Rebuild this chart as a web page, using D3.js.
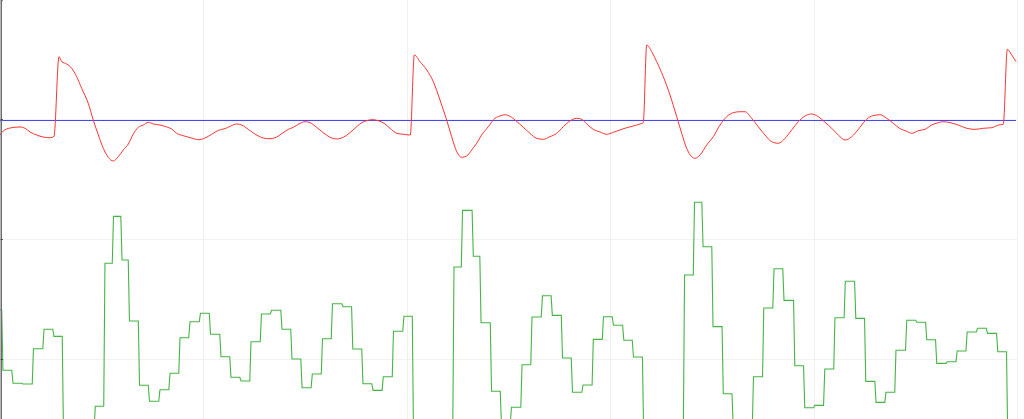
<!DOCTYPE html>
<html>
<head>
<meta charset="utf-8">
<script src="https://cdn.jsdelivr.net/npm/d3@7/dist/d3.min.js"></script>
<style>
html,body{margin:0;padding:0;background:#fff;overflow:hidden;}
svg{display:block;}
</style>
</head>
<body>
<svg id="chart" width="1024" height="419"></svg>
<script>
// ---- data (time in seconds, value in signal units) ----
const xTicks = [0, 2, 4, 6, 8, 10];
const yTicks = [1, 0, -1, -2];

const blueT = [0, 9.99];
const blueV = [0, 0];

const redT = [0.000,0.032,0.098,0.197,0.246,0.295,0.361,0.426,0.492,0.531,0.580,0.607,0.656,0.705,0.754,0.803,0.868,0.917,0.967,1.016,
1.065,1.114,1.163,1.212,1.262,1.311,1.360,1.409,1.458,1.507,1.573,1.639,1.688,1.737,1.802,1.885,1.950,2.016,2.082,2.147,
2.212,2.262,2.327,2.377,2.442,2.507,2.589,2.655,2.704,2.770,2.835,2.884,2.950,2.999,3.048,3.114,3.179,3.245,3.311,3.376,
3.441,3.507,3.557,3.606,3.655,3.720,3.786,3.835,3.901,3.966,4.034,4.074,4.130,4.196,4.261,4.326,4.392,4.441,4.491,4.540,
4.589,4.638,4.687,4.736,4.801,4.867,4.916,4.966,5.031,5.064,5.146,5.211,5.277,5.342,5.408,5.474,5.539,5.605,5.671,5.720,
5.769,5.834,5.900,5.965,6.031,6.096,6.162,6.227,6.293,6.325,6.359,6.408,6.457,6.522,6.588,6.654,6.703,6.752,6.801,6.834,
6.883,6.949,7.014,7.080,7.146,7.210,7.276,7.325,7.391,7.456,7.522,7.588,7.653,7.719,7.785,7.850,7.915,7.981,8.046,8.112,
8.178,8.243,8.309,8.375,8.440,8.505,8.571,8.653,8.719,8.784,8.850,8.915,8.965,9.030,9.095,9.161,9.226,9.275,9.341,9.423,
9.505,9.587,9.669,9.751,9.816,9.865,9.905,9.948,9.990];
const redV = [-0.125,-0.092,-0.067,-0.058,-0.069,-0.100,-0.125,-0.142,-0.148,-0.136,0.528,0.486,0.467,0.431,0.361,0.264,0.139,0.000,-0.125,-0.236,
-0.311,-0.342,-0.306,-0.250,-0.200,-0.117,-0.061,-0.042,-0.019,-0.033,-0.042,-0.058,-0.075,-0.111,-0.131,-0.150,-0.164,-0.150,-0.119,-0.086,
-0.072,-0.053,-0.033,-0.042,-0.078,-0.117,-0.150,-0.156,-0.148,-0.114,-0.078,-0.061,-0.028,-0.014,-0.022,-0.061,-0.106,-0.144,-0.158,-0.144,
-0.106,-0.056,-0.022,-0.006,0.003,-0.006,-0.033,-0.069,-0.111,-0.119,-0.125,0.542,0.486,0.417,0.319,0.167,0.000,-0.139,-0.264,-0.311,
-0.300,-0.250,-0.194,-0.125,-0.056,0.014,0.033,0.044,0.022,0.000,-0.061,-0.111,-0.153,-0.161,-0.139,-0.111,-0.056,-0.008,0.014,0.006,
-0.033,-0.078,-0.100,-0.119,-0.103,-0.083,-0.064,-0.050,-0.033,-0.022,0.625,0.569,0.486,0.361,0.208,0.028,-0.111,-0.236,-0.306,-0.319,
-0.292,-0.208,-0.139,-0.042,0.028,0.061,0.069,0.069,0.014,-0.056,-0.125,-0.181,-0.194,-0.153,-0.083,-0.014,0.033,0.050,0.028,-0.019,
-0.069,-0.125,-0.167,-0.139,-0.078,-0.008,0.033,0.044,0.014,-0.028,-0.072,-0.094,-0.111,-0.089,-0.078,-0.042,-0.022,-0.014,-0.022,-0.042,
-0.069,-0.078,-0.069,-0.064,-0.042,-0.036,0.589,0.542,0.486];

const greenT = [-0.069,0.029,0.128,0.226,0.329,0.433,0.531,0.624,0.728,0.831,0.937,1.032,1.116,1.200,1.273,1.372,1.470,1.573,1.672,1.770,
1.868,1.971,2.070,2.173,2.271,2.370,2.468,2.571,2.670,2.773,2.871,2.970,3.071,3.171,3.269,3.373,3.469,3.569,3.668,3.769,
3.869,3.972,4.066,4.169,4.267,4.366,4.464,4.548,4.654,4.730,4.833,4.931,5.029,5.133,5.231,5.334,5.431,5.531,5.629,5.733,
5.834,5.934,6.032,6.134,6.229,6.329,6.431,6.529,6.627,6.731,6.829,6.913,7.011,7.112,7.210,7.311,7.409,7.510,7.611,7.709,
7.815,7.913,8.012,8.110,8.210,8.312,8.415,8.513,8.614,8.712,8.810,8.916,9.015,9.113,9.211,9.314,9.412,9.510,9.612,9.710,
9.811,9.909,9.990];
const greenV = [-1.583,-2.086,-2.194,-2.200,-1.906,-1.744,-1.803,-2.600,-2.708,-2.583,-2.386,-1.194,-0.803,-1.167,-1.675,-2.211,-2.344,-2.248,-2.111,-1.814,
-1.681,-1.611,-1.786,-1.973,-2.144,-2.175,-1.848,-1.617,-1.586,-1.744,-1.992,-2.231,-2.117,-1.823,-1.531,-1.556,-1.908,-2.198,-2.253,-2.139,
-1.761,-1.636,-2.625,-2.750,-2.733,-2.583,-1.225,-0.753,-1.136,-1.689,-2.261,-2.542,-2.394,-2.039,-1.642,-1.464,-1.628,-1.983,-2.269,-2.208,
-1.828,-1.639,-1.711,-1.836,-1.975,-2.625,-2.750,-2.750,-2.600,-1.292,-0.686,-1.056,-1.722,-2.281,-2.583,-2.567,-2.139,-1.567,-1.239,-1.503,
-2.048,-2.398,-2.378,-2.075,-1.648,-1.344,-1.653,-2.178,-2.353,-2.269,-1.919,-1.669,-1.686,-1.831,-2.028,-2.014,-1.925,-1.767,-1.736,-1.778,
-1.931,-2.667,-2.667];

// ---- chart ----
const W = 1024, H = 419;
const svg = d3.select("#chart");
const x = d3.scaleLinear().domain([0, 10]).range([0, 1017]);
const y = d3.scaleLinear().domain([1, -2.5]).range([0, 420]);

svg.append("defs").append("clipPath").attr("id", "plotclip")
  .append("rect").attr("x", 0).attr("y", 0).attr("width", x(10)).attr("height", H);

// grid
const grid = svg.append("g").attr("shape-rendering", "crispEdges");
grid.selectAll("line.vx").data(xTicks.filter(d => d > 0)).join("line")
  .attr("x1", d => Math.round(x(d)) + 0.5).attr("x2", d => Math.round(x(d)) + 0.5)
  .attr("y1", 0).attr("y2", H)
  .attr("stroke", "#efefef").attr("stroke-width", 1);
grid.selectAll("line.hy").data(yTicks).join("line")
  .attr("x1", 0).attr("x2", x(10))
  .attr("y1", d => Math.round(y(d)) - 0.5).attr("y2", d => Math.round(y(d)) - 0.5)
  .attr("stroke", "#f2f2f2").attr("stroke-width", 1);

const plot = svg.append("g").attr("clip-path", "url(#plotclip)");

const toPts = (T, V) => T.map((t, i) => [t, V[i]]);

// green sampled-and-held series: each value held until the next sample, with a short ramp
const ramp = 0.012;
const greenPts = [];
greenT.forEach((t, i) => {
  greenPts.push([t, greenV[i]]);
  if (i < greenT.length - 1) greenPts.push([greenT[i + 1] - ramp, greenV[i]]);
});
plot.append("path")
  .datum(greenPts)
  .attr("fill", "none")
  .attr("stroke", "#45b545")
  .attr("stroke-width", 1.1)
  .attr("d", d3.line().x(d => x(d[0])).y(d => y(d[1])));

// blue reference line
plot.append("path")
  .datum(toPts(blueT, blueV))
  .attr("fill", "none")
  .attr("stroke", "#4646ff")
  .attr("stroke-width", 1)
  .attr("shape-rendering", "crispEdges")
  .attr("d", d3.line().x(d => x(d[0])).y(d => y(d[1]) + 0.5));

// red series
plot.append("path")
  .datum(toPts(redT, redV))
  .attr("fill", "none")
  .attr("stroke", "#ff3333")
  .attr("stroke-width", 1)
  .attr("d", d3.line().x(d => x(d[0])).y(d => y(d[1])).curve(d3.curveMonotoneX));

// left axis
const axis = svg.append("g").attr("transform", "translate(0.75,0)")
  .call(d3.axisRight(y).tickValues(yTicks).tickSize(2).tickFormat(""));
axis.select(".domain").attr("stroke", "#6e6e6e").attr("stroke-width", 1.5);
axis.selectAll(".tick line").attr("stroke", "#333").attr("transform", "translate(0,-1)");
</script>
</body>
</html>
